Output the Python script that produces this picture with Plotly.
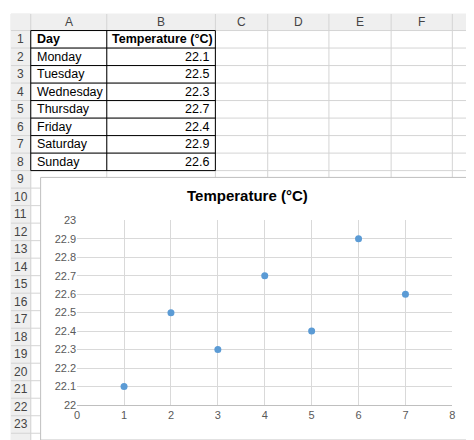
import plotly.graph_objects as go

days = ["Monday", "Tuesday", "Wednesday", "Thursday", "Friday", "Saturday", "Sunday"]
temps = [22.1, 22.5, 22.3, 22.7, 22.4, 22.9, 22.6]
xs = [1, 2, 3, 4, 5, 6, 7]
header = ["Day", "Temperature (°C)"]
col_letters = ["A", "B", "C", "D", "E", "F"]

W, H = 474, 440
def px(x): return x / W
def py(y): return 1 - y / H

col_edges = [20, 97, 207, 260, 322, 385, 447, 474]
row_top = lambda n: 17 + 18 * (n - 1)
FONT = "Liberation Sans"

shapes, ann = [], []
def rect(x0, y0, x1, y1, fill=None, line="#d4d4d4", lw=1, layer="below"):
    shapes.append(dict(type="rect", xref="paper", yref="paper", x0=px(x0), x1=px(x1),
                       y0=py(y1), y1=py(y0), fillcolor=fill or "rgba(0,0,0,0)",
                       line=dict(color=line, width=lw), layer=layer))
def line(x0, y0, x1, y1, color="#d4d4d4", lw=1, layer="below"):
    shapes.append(dict(type="line", xref="paper", yref="paper", x0=px(x0), x1=px(x1),
                       y0=py(y0), y1=py(y1), line=dict(color=color, width=lw), layer=layer))
def text(x, y, s, anchor="left", size=12.5, bold=False, color="black"):
    ann.append(dict(xref="paper", yref="paper", x=px(x), y=py(y), text=f"<b>{s}</b>" if bold else s,
                    showarrow=False, xanchor=anchor, yanchor="middle",
                    font=dict(family=FONT, size=size, color=color)))

# header bands
rect(0, 0, W, 17, fill="#efefef", line="#efefef")
rect(0, 0, 20, H, fill="#efefef", line="#efefef")
for x in col_edges:
    line(x, 0, x, H)
for n in range(1, 25):
    line(0, row_top(n), W, row_top(n))
for i, c in enumerate(col_letters):
    text((col_edges[i] + col_edges[i + 1]) / 2, 8, c, anchor="center", size=12, color="#444")
for n in range(1, 24):
    text(10, row_top(n) + 9, str(n), anchor="center", size=12, color="#444")

# table
text(24, row_top(1) + 9, header[0], bold=True)
text(100, row_top(1) + 9, header[1], bold=True)
for i, (d, t) in enumerate(zip(days, temps)):
    r = row_top(i + 2) + 9
    text(24, r, d)
    text(203, r, f"{t}", anchor="right")
for n in range(1, 10):
    line(20, row_top(n), 207, row_top(n), color="black")
for x in [20, 97, 207]:
    line(x, row_top(1), x, row_top(9), color="black")

# chart area
rect(30, 168, 462, 438, fill="white", line="#bfbfbf", layer="below")
text(240, 187, "Temperature (°C)", anchor="center", size=15, bold=True)

fig = go.Figure(go.Scatter(x=xs, y=temps, mode="markers",
                           marker=dict(color="#5b9bd5", size=7)))
fig.update_layout(
    width=W, height=H, margin=dict(l=0, r=0, t=0, b=0),
    paper_bgcolor="white", plot_bgcolor="rgba(0,0,0,0)",
    shapes=shapes, annotations=ann, showlegend=False,
    xaxis=dict(domain=[px(67), px(447)], range=[0, 8], dtick=1, showgrid=True,
               gridcolor="#d9d9d9", zeroline=False, showline=True, linecolor="#bfbfbf",
               tickfont=dict(family=FONT, size=11, color="#595959"), ticks=""),
    yaxis=dict(domain=[py(402), py(212)], range=[22, 23], dtick=0.1, showgrid=True,
               gridcolor="#d9d9d9", zeroline=False, showline=False,
               tickfont=dict(family=FONT, size=11, color="#595959"), ticks="",
               tickformat="~r"),
)
fig.write_html("out.html")
